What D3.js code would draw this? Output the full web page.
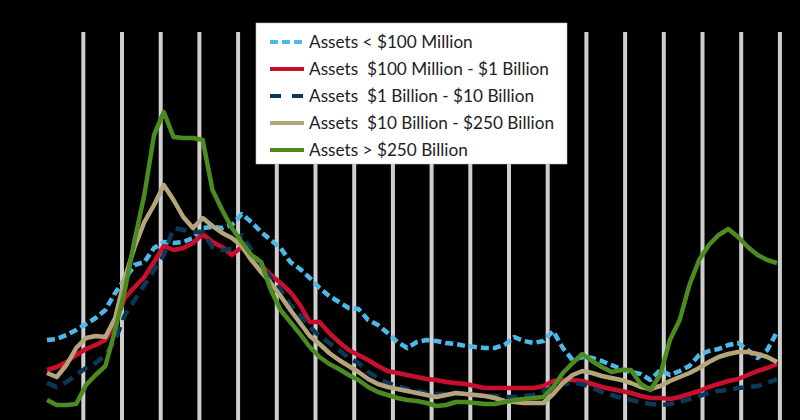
<!DOCTYPE html>
<html>
<head>
<meta charset="utf-8">
<script src="https://cdn.jsdelivr.net/npm/d3@7"></script>
<style>
  html, body { margin: 0; padding: 0; background: #000; }
  svg { display: block; }
  .legend text { font-family: Lato, "Noto Sans", sans-serif; font-size: 17.2px; fill: #222; white-space: pre; }
</style>
</head>
<body>
<div id="chart_div"></div>
<script>
// quarterly values, one per quarter
var quarters = d3.range(76);

var assetsUnder100M = [
  0.80,0.81,0.85,0.90,0.96,1.02,1.10,1.27,1.41,1.55,
  1.58,1.72,1.78,1.77,1.78,1.82,1.92,1.93,1.92,1.95,
  2.06,1.98,1.88,1.80,1.72,1.58,1.51,1.42,1.32,1.24,
  1.18,1.12,1.11,1.00,0.95,0.87,0.78,0.72,0.78,0.80,
  0.79,0.77,0.76,0.74,0.73,0.72,0.72,0.75,0.83,0.79,
  0.77,0.79,0.89,0.72,0.60,0.63,0.62,0.59,0.55,0.51,
  0.48,0.46,0.40,0.50,0.45,0.49,0.54,0.65,0.69,0.71,
  0.75,0.77,0.70,0.62,0.70,0.88
];

var assets100Mto1B = [
  0.50,0.53,0.58,0.65,0.71,0.75,0.80,0.97,1.22,1.33,
  1.43,1.58,1.74,1.70,1.72,1.77,1.86,1.78,1.73,1.65,
  1.73,1.62,1.55,1.45,1.37,1.28,1.15,0.98,0.98,0.87,
  0.78,0.70,0.65,0.60,0.54,0.49,0.47,0.45,0.43,0.41,
  0.40,0.38,0.37,0.36,0.34,0.32,0.32,0.32,0.32,0.32,
  0.32,0.34,0.39,0.40,0.40,0.39,0.36,0.33,0.31,0.29,
  0.27,0.24,0.22,0.22,0.21,0.23,0.26,0.29,0.33,0.36,
  0.39,0.41,0.45,0.49,0.52,0.56
];

var assets1Bto10B = [
  0.37,0.33,0.38,0.45,0.52,0.57,0.65,0.80,1.05,1.20,
  1.35,1.50,1.65,1.92,1.90,1.88,1.88,1.73,1.70,1.71,
  1.85,1.70,1.55,1.42,1.30,1.15,1.05,0.93,0.84,0.77,
  0.70,0.62,0.57,0.48,0.42,0.37,0.34,0.31,0.29,0.27,
  0.26,0.26,0.27,0.26,0.25,0.25,0.24,0.23,0.23,0.24,
  0.25,0.29,0.33,0.36,0.37,0.36,0.32,0.28,0.25,0.22,
  0.20,0.18,0.16,0.15,0.16,0.18,0.21,0.24,0.27,0.29,
  0.30,0.32,0.33,0.34,0.37,0.41
];

var assets10Bto250B = [
  0.47,0.43,0.55,0.72,0.82,0.84,0.83,1.02,1.42,1.73,
  1.98,2.15,2.35,2.20,2.03,1.92,2.02,1.94,1.87,1.82,
  1.74,1.60,1.48,1.37,1.24,1.10,0.97,0.84,0.76,0.67,
  0.60,0.54,0.48,0.41,0.36,0.33,0.31,0.29,0.27,0.25,
  0.23,0.25,0.27,0.26,0.25,0.24,0.22,0.19,0.18,0.17,
  0.17,0.17,0.26,0.37,0.45,0.49,0.47,0.44,0.42,0.40,
  0.37,0.33,0.31,0.34,0.39,0.43,0.47,0.52,0.58,0.63,
  0.66,0.68,0.68,0.66,0.63,0.58
];

var assetsOver250B = [
  0.20,0.15,0.15,0.16,0.35,0.45,0.54,0.90,1.30,1.80,
  2.25,2.85,3.08,2.83,2.82,2.82,2.80,2.30,2.10,1.92,
  1.78,1.65,1.58,1.30,1.10,0.98,0.86,0.73,0.63,0.56,
  0.51,0.45,0.40,0.33,0.28,0.25,0.22,0.20,0.19,0.17,
  0.14,0.15,0.18,0.18,0.17,0.16,0.16,0.18,0.20,0.21,
  0.22,0.23,0.33,0.47,0.57,0.66,0.59,0.53,0.48,0.50,
  0.50,0.36,0.30,0.45,0.80,1.00,1.35,1.60,1.75,1.85,
  1.91,1.83,1.73,1.65,1.60,1.57
];

var seriesNames = [
  "Assets < $100 Million",
  "Assets  $100 Million - $1 Billion",
  "Assets  $1 Billion - $10 Billion",
  "Assets  $10 Billion - $250 Billion",
  "Assets > $250 Billion"
];

// vertical grid lines, one per year
var yearGrid = d3.range(19).map(function (k) { return 3.73 + k * 3.976; });

var series = [
  {name: seriesNames[0], values: assetsUnder100M, color: "#4cb9ea", dash: "8,4",  legendDash: "8,4"},
  {name: seriesNames[1], values: assets100Mto1B,  color: "#c8102e", dash: null,   legendDash: null},
  {name: seriesNames[2], values: assets1Bto10B,   color: "#0c3858", dash: "11,7", legendDash: "11,11"},
  {name: seriesNames[3], values: assets10Bto250B, color: "#b4a67a", dash: null,   legendDash: null},
  {name: seriesNames[4], values: assetsOver250B,  color: "#4b8b1f", dash: null,   legendDash: null}
];

var svg = d3.select("#chart_div").append("svg").attr("width", 800).attr("height", 420),
    width = 800, height = 420;

svg.append("rect").attr("width", width).attr("height", height).attr("fill", "#000");

var x = d3.scaleLinear().domain([0, 75]).range([47, 777]);
var y = d3.scaleLinear().domain([0, 4]).range([420, 20]);

svg.append("g")
    .selectAll("line")
    .data(yearGrid)
    .enter().append("line")
    .attr("x1", function (d) { return x(d); })
    .attr("x2", function (d) { return x(d); })
    .attr("y1", 32)
    .attr("y2", height)
    .attr("stroke", "#cfcfcf")
    .attr("stroke-width", 4);

var line = d3.line()
    .x(function (d, i) { return x(quarters[i]); })
    .y(function (d) { return y(d); });

svg.append("g")
    .selectAll("path")
    .data(series)
    .enter().append("path")
    .attr("d", function (s) { return line(s.values); })
    .attr("fill", "none")
    .attr("stroke", function (s) { return s.color; })
    .attr("stroke-width", 4.5)
    .attr("stroke-linejoin", "round")
    .attr("stroke-dasharray", function (s) { return s.dash; });

// legend
var legend = svg.append("g").attr("class", "legend");

legend.append("rect")
    .attr("x", 256).attr("y", 23)
    .attr("width", 311).attr("height", 141)
    .attr("fill", "#fff")
    .attr("stroke", "#bbb")
    .attr("stroke-width", 0.6);

var item = legend.selectAll("g.item")
    .data(series)
    .enter().append("g")
    .attr("class", "item")
    .attr("transform", function (d, i) { return "translate(0," + (42 + i * 27) + ")"; });

item.append("line")
    .attr("x1", 270).attr("x2", 304)
    .attr("y1", 0).attr("y2", 0)
    .attr("stroke", function (d) { return d.color; })
    .attr("stroke-width", 4)
    .attr("stroke-dasharray", function (d) { return d.legendDash; });

item.append("text")
    .attr("x", 309)
    .attr("dy", "0.35em")
    .text(function (d) { return d.name; });
</script>
</body>
</html>
